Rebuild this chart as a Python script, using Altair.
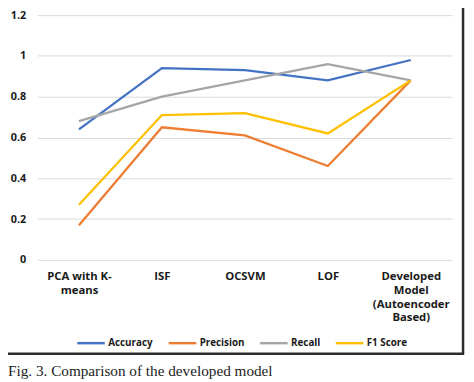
import altair as alt
import pandas as pd

categories = ["PCA with K-|means", "ISF", "OCSVM", "LOF", "Developed|Model|(Autoencoder|Based)"]
series = ["Accuracy", "Precision", "Recall", "F1 Score"]
accuracy = [0.64, 0.94, 0.93, 0.88, 0.98]
precision = [0.17, 0.65, 0.61, 0.46, 0.88]
recall = [0.68, 0.80, 0.88, 0.96, 0.88]
f1 = [0.27, 0.71, 0.72, 0.62, 0.88]
colors = ["#4472C4", "#ED7D31", "#A5A5A5", "#FFC000"]
y_ticks = [0, 0.2, 0.4, 0.6, 0.8, 1.0, 1.2]
caption = "Fig. 3. Comparison of the developed model"

rows = []
for name, vals in zip(series, [accuracy, precision, recall, f1]):
    for c, v in zip(categories, vals):
        rows.append({"Model": c, "Metric": name, "Value": v})
df = pd.DataFrame(rows)

FONT = "Open Sans"

lines = alt.Chart(df).mark_line(strokeWidth=2.3).encode(
    x=alt.X("Model:N", sort=categories,
            scale=alt.Scale(type="point", padding=0.5),
            axis=alt.Axis(title=None, labelAngle=0, domain=False, ticks=False, grid=False,
                          labelPadding=11, labelLineHeight=14,
                          labelExpr="split(datum.label, '|')",
                          labelFont=FONT, labelFontWeight="bold", labelFontSize=11.5,
                          labelColor="#1a1a1a", labelBaseline="top")),
    y=alt.Y("Value:Q", scale=alt.Scale(domain=[0, 1.2], nice=False),
            axis=alt.Axis(title=None, values=y_ticks, format="~g", domain=False, ticks=False,
                          gridColor="#d9d9d9", gridWidth=1, labelPadding=12,
                          labelFont=FONT, labelFontWeight="bold", labelFontSize=11,
                          labelColor="#1a1a1a")),
    color=alt.Color("Metric:N", sort=series,
                    scale=alt.Scale(domain=series, range=colors),
                    legend=alt.Legend(title=None, orient="none", direction="horizontal",
                                      legendX=39, legendY=318,
                                      symbolType="stroke", symbolSize=784,
                                      symbolStrokeWidth=2.5, labelOffset=2,
                                      columnPadding=10,
                                      labelFont=FONT, labelFontWeight="bold",
                                      labelFontSize=10, labelColor="#1a1a1a")),
)

border_df = pd.DataFrame({"k": [0]})
right_border = alt.Chart(border_df).mark_rule(color="#2b2b2b", strokeWidth=2.5).encode(
    x=alt.value(433), y=alt.value(-12), y2=alt.value(345)
)
bottom_border = alt.Chart(border_df).mark_rule(color="#2b2b2b", strokeWidth=2.5).encode(
    x=alt.value(-30), x2=alt.value(434), y=alt.value(344.5)
)

cap = alt.Chart(pd.DataFrame({"t": [caption]})).mark_text(
    align="left", baseline="alphabetic", font="Liberation Serif", fontSize=15.5, color="#222222"
).encode(text="t:N", x=alt.value(-30), y=alt.value(367))

chart = alt.layer(lines, right_border, bottom_border, cap).properties(
    width=422, height=249,
    autosize=alt.AutoSizeParams(type="none"),
    padding={"left": 30, "top": 4, "right": 14, "bottom": 121},
    background="white",
).configure_view(stroke=None)

chart.save("out.html", embed_options={"renderer": "svg", "actions": False})
